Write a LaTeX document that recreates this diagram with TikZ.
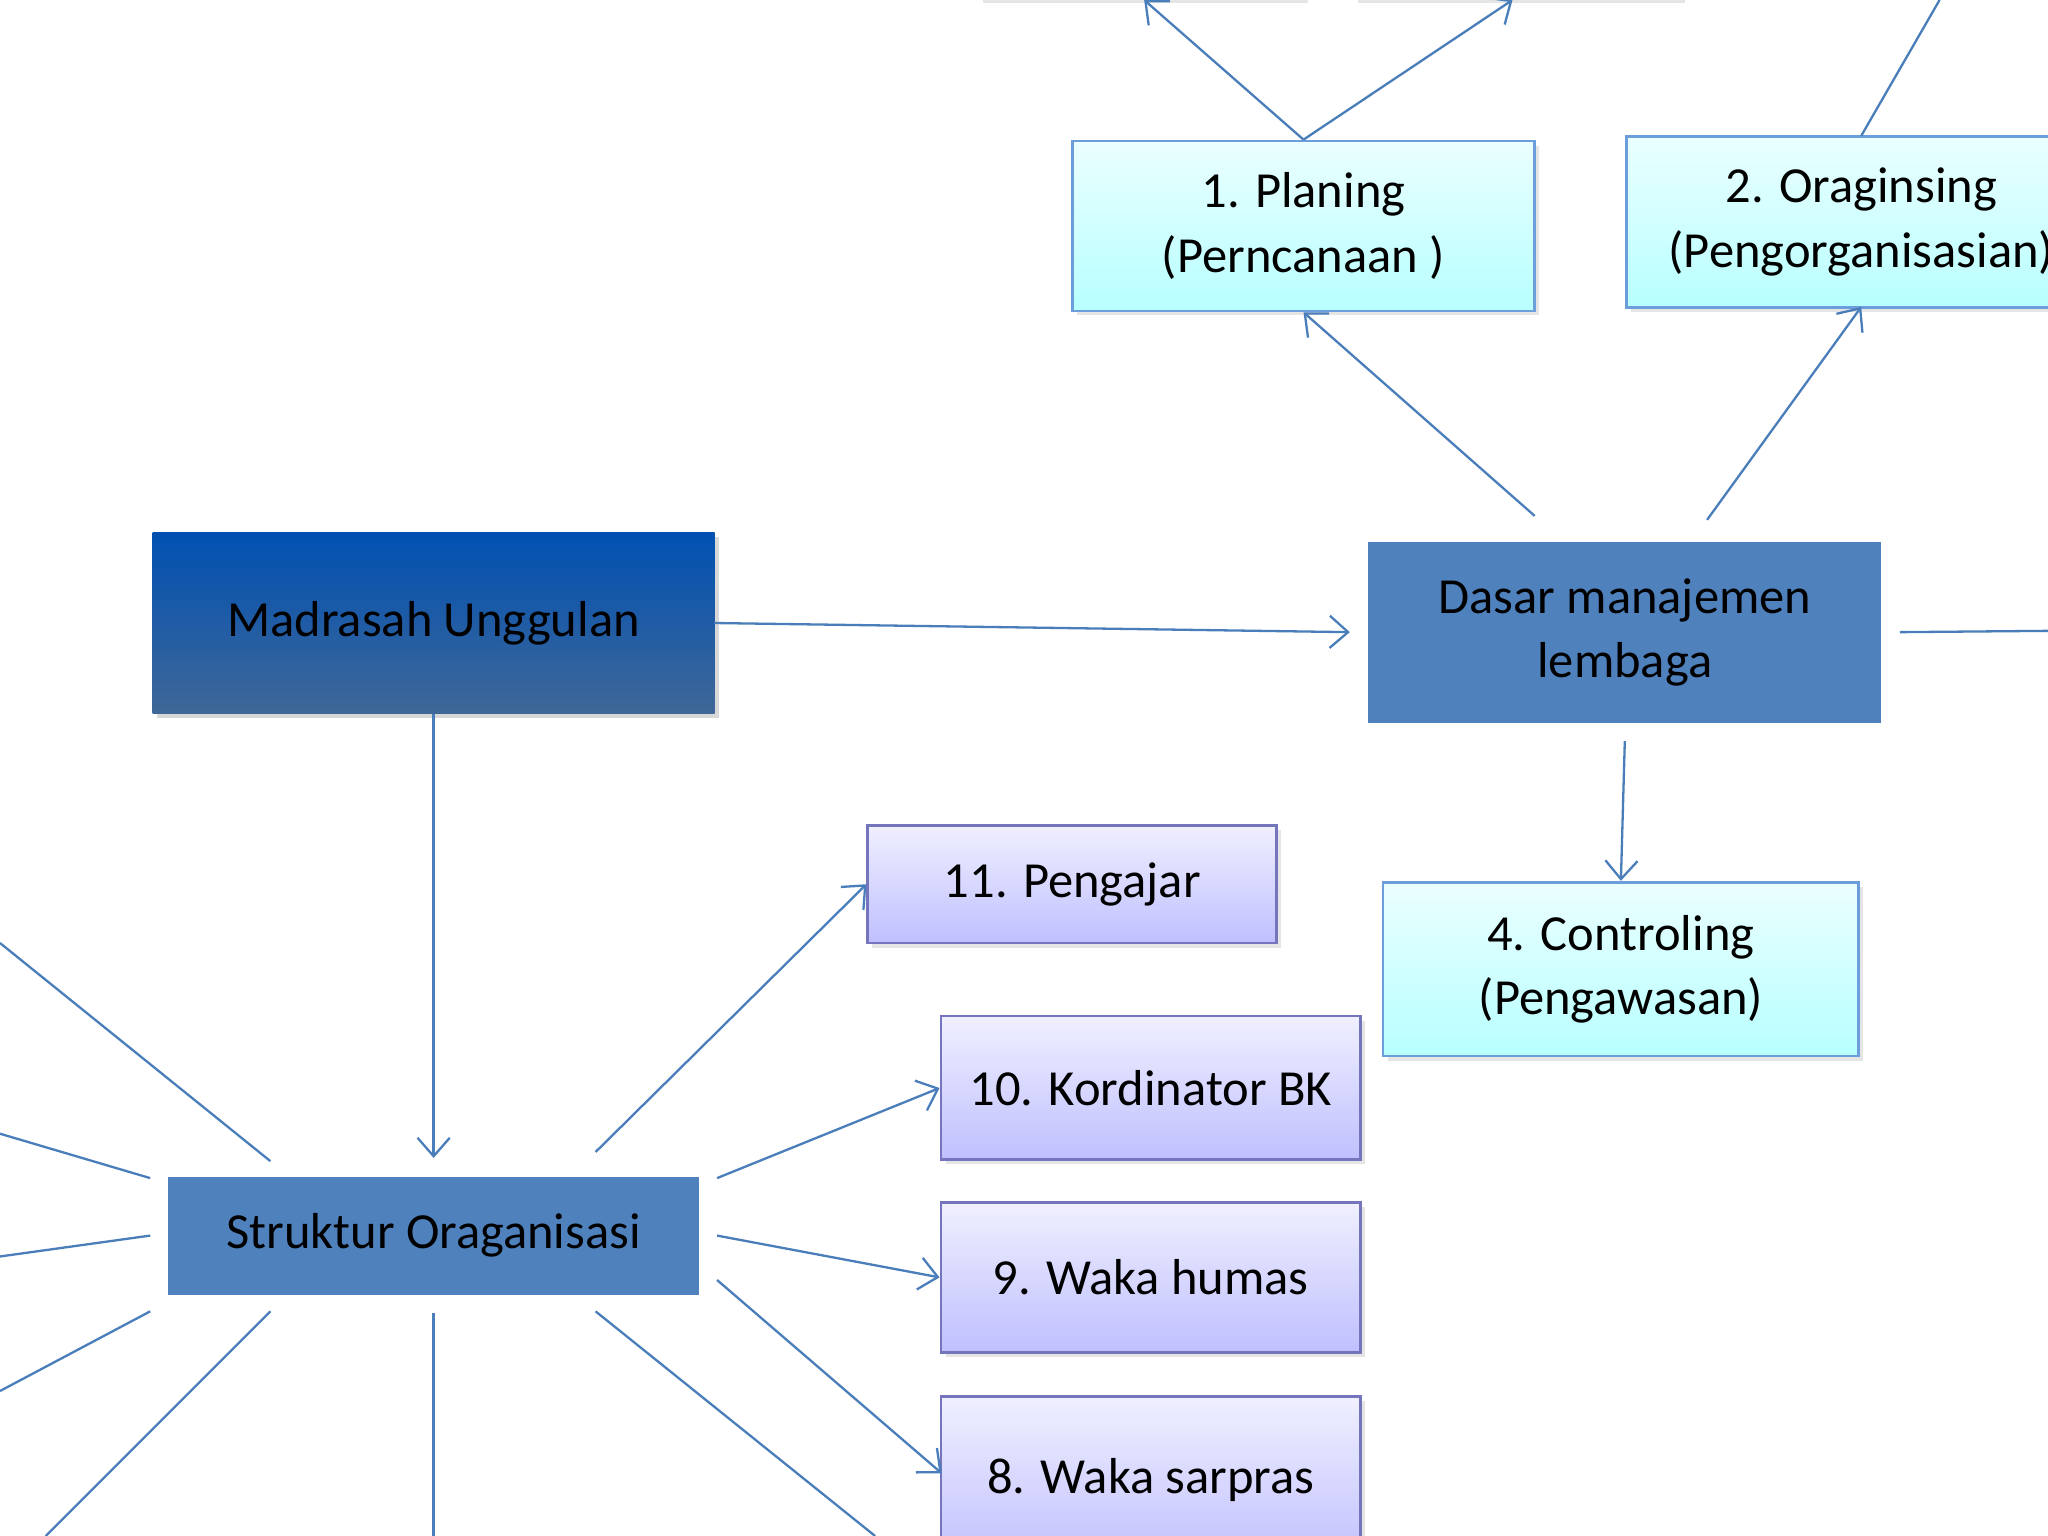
\documentclass[tikz,border=0pt]{standalone}
\usepackage{fontspec}
\setmainfont{Carlito}
\usetikzlibrary{arrows.meta,shadows}
\definecolor{ln}{HTML}{4A7EBB}
\definecolor{mid}{HTML}{4F81BD}
\tikzset{
 x=0.01cm,y=-0.01cm,
 conn/.style={draw=ln,line width=0.5pt},
 arr/.style={conn,-{Straight Barb[length=4pt,width=7pt]}},
 dark/.style={draw=none,top color=#1,bottom color=#1,font=\fontsize{11}{14}\selectfont},
 mainbox/.style={fill=mid,draw=white,line width=2.5pt,double=white,font=\fontsize{11}{14}\selectfont,drop shadow={opacity=0.25,shadow xshift=0pt,shadow yshift=-1pt}},
 cyan/.style={draw=cyan!55!blue!60,line width=0.6pt,top color=cyan!8,bottom color=cyan!28,font=\fontsize{11}{14}\selectfont,align=center,drop shadow={opacity=0.2,shadow xshift=1pt,shadow yshift=-1pt}},
 lav/.style={draw=blue!35!gray!80,line width=0.6pt,top color=blue!6,bottom color=blue!25,font=\fontsize{11}{14}\selectfont,drop shadow={opacity=0.2,shadow xshift=1pt,shadow yshift=-1pt}},
}
\newcommand{\bx}[6]{\path (#1,#2) rectangle (#3,#4) node[#5,pos=.5,minimum width=(#3-#1)*0.01cm,minimum height=(#4-#2)*0.01cm,inner sep=0,anchor=center] {};}
\begin{document}
\begin{tikzpicture}
\useasboundingbox (0,0) rectangle (1568,1176);
\clip (0,0) rectangle (1568,1176);
\fill[white] (0,0) rectangle (1568,1176);
% nodes
\node[draw=none,top color=blue!55!cyan!70!black,bottom color=mid!80!black,minimum width=4.3cm,minimum height=1.38cm,font=\fontsize{11}{14}\selectfont,drop shadow={opacity=0.3,shadow xshift=1pt,shadow yshift=-1pt}] (mad) at (332,477) {Madrasah Unggulan};
\node[mainbox,minimum width=4.12cm,minimum height=1.58cm,align=center] (das) at (1244,484) {Dasar manajemen\\lembaga};
\node[mainbox,minimum width=4.26cm,minimum height=1.10cm] (str) at (332,946) {Struktur Oraganisasi};
\node[cyan,minimum width=3.53cm,minimum height=1.30cm] (pla) at (998,173) {1. Planing\\(Perncanaan )};
\node[cyan,minimum width=3.6cm,minimum height=1.31cm,anchor=west] (org) at (1244,170) {2. Oraginsing\\(Pengorganisasian)};
\node[cyan,minimum width=3.64cm,minimum height=1.33cm] (con) at (1241,742) {4. Controling\\(Pengawasan)};
\node[cyan,minimum width=2.49cm,minimum height=0.6cm,anchor=south west] (t1) at (748,0) {};
\node[cyan,minimum width=2.5cm,minimum height=0.6cm,anchor=south west] (t2) at (1035,0) {};
\node[lav,minimum width=3.13cm,minimum height=0.90cm] (p11) at (821,677) {11. Pengajar};
\node[lav,minimum width=3.21cm,minimum height=1.10cm] (p10) at (881,833) {10. Kordinator BK};
\node[lav,minimum width=3.21cm,minimum height=1.15cm] (p9) at (881,978) {9. Waka humas};
\node[lav,minimum width=3.21cm,minimum height=1.3cm,anchor=north] (p8) at (881,1068) {};
\node[font=\fontsize{11}{14}\selectfont] at (881,1133) {8. Waka sarpras};
% free ends
\coordinate (e1) at (876,0); \coordinate (e2) at (1158,0);
\coordinate (e3) at (1485,0); \coordinate (e4) at (1568,483);
\coordinate (f1) at (670,1176); \coordinate (f2) at (332,1176);
\coordinate (f3) at (35,1176); \coordinate (f4) at (0,1065);
\coordinate (f5) at (0,962); \coordinate (f6) at (0,868);
\coordinate (f7) at (0,722);
% connectors
\draw[arr] (547,477) -- (das.west);
\draw[arr] (mad.south) -- (str.north);
\draw[arr] (1175,395) -- (pla.south);
\draw[arr] (1307,398) -- (1425,235);
\draw[arr] (das.south) -- (con.north);
\draw[conn] (das.east) -- (e4);
\draw[arr] (pla.north) -- (e1);
\draw[arr] (pla.north) -- (e2);
\draw[conn] (1425,104) -- (e3);
\draw[arr] (456,882) -- (p11.west);
\draw[arr] (549,902) -- (p10.west);
\draw[arr] (549,946) -- (p9.west);
\draw[arr] (549,980) -- (721,1128);
\draw[conn] (456,1004) -- (f1);
\draw[conn] (str.south) -- (f2);
\draw[conn] (207,1004) -- (f3);
\draw[conn] (115,1004) -- (f4);
\draw[conn] (115,946) -- (f5);
\draw[conn] (115,902) -- (f6);
\draw[conn] (207,889) -- (f7);
\end{tikzpicture}
\end{document}
